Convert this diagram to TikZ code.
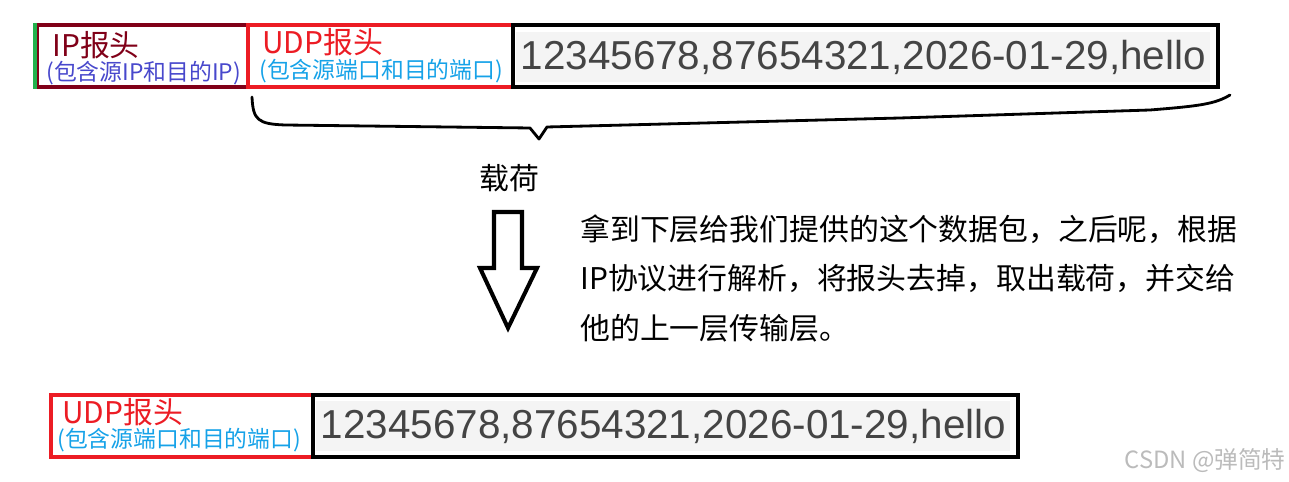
\documentclass[tikz,border=0pt]{standalone}
\usepackage{fontspec}
\setmainfont{Noto Sans CJK SC}
\newfontfamily\datafont{Liberation Sans}
\usetikzlibrary{positioning}

\definecolor{ipred}{HTML}{800018}
\definecolor{udpred}{HTML}{EC1C24}
\definecolor{ipblue}{HTML}{4848CC}
\definecolor{udpblue}{HTML}{16A2E8}
\definecolor{edgegreen}{HTML}{22B14C}
\definecolor{datagray}{HTML}{F4F4F4}
\definecolor{datatext}{HTML}{444444}
\definecolor{markgray}{HTML}{BBBBBB}

\tikzset{
  hdrbox/.style={draw=#1, line width=2.3pt, minimum height=1.24cm, inner sep=0pt, outer sep=0pt},
  databox/.style={draw=black, line width=2.3pt, minimum width=14.1cm, minimum height=1.24cm, inner sep=0pt, outer sep=0pt},
  datatxt/.style={fill=datagray, text=datatext, font=\datafont\fontsize{23}{23}\selectfont, minimum width=13.88cm, minimum height=1.0cm, inner sep=0pt},
  hdrtitle/.style={anchor=west, inner sep=0pt, text=#1, font=\fontsize{17}{17}\selectfont},
  hdrnote/.style={anchor=west, inner sep=0pt, text=#1, font=\fontsize{13}{13}\selectfont},
}

\begin{document}
\begin{tikzpicture}[x=0.02cm,y=-0.02cm]
\useasboundingbox (0,0) rectangle (1289,482);

% upper packet: IP header + UDP header + data
\node[hdrbox=ipred, minimum width=4.22cm] (iphdr) at (142.5,56) {};
\node[hdrbox=udpred, minimum width=5.3cm, right=0pt of iphdr] (udphdr) {};
\node[databox, right=0pt of udphdr] (datahdr) {};
\draw[edgegreen, line width=2pt] ([shift={(-2,-2)}]iphdr.north west) -- ([shift={(-2,2)}]iphdr.south west);

\node[hdrtitle=ipred] (iptitle) at ([shift={(15,-11)}]iphdr.west) {IP报头};
\node[hdrnote=ipblue] (ipnote) at ([shift={(9,17)}]iphdr.west) {(包含源IP和目的IP)};
\node[hdrtitle=udpred] (udptitle) at ([shift={(14,-14)}]udphdr.west) {UDP报头};
\node[hdrnote=udpblue] (udpnote) at ([shift={(11,15)}]udphdr.west) {(包含源端口和目的端口)};
\node[datatxt] (data) at ([shift={(-2,1)}]datahdr.center) {12345678,87654321,2026-01-29,hello};

% brace under UDP header and data
\draw[line width=1.6pt, line cap=round, line join=round]
  (252,97) .. controls (253,120) and (258,124) .. (285,125) -- (530,128)
  -- (539,139) -- (547,127) -- (900,118) -- (1150,110)
  .. controls (1200,106) and (1215,104) .. (1230,95);
\node[font=\fontsize{17}{17}\selectfont] (payload) at (509,178) {载荷};

% hollow arrow
\draw[line width=2.3pt, line join=miter]
  (494,212) -- (522,212) -- (522,268) -- (537,268) -- (508,328)
  -- (480,268) -- (494,268) -- cycle;

\node[anchor=north west, inner sep=0pt, align=left, font=\fontsize{17}{28.4}\selectfont] (explain) at (580,214)
  {拿到下层给我们提供的这个数据包，之后呢，根据\\IP协议进行解析，将报头去掉，取出载荷，并交给\\他的上一层传输层。};

% lower packet: UDP header + data
\node[hdrbox=udpred, minimum width=5.24cm] (udplow) at (182,426) {};
\node[databox, right=0pt of udplow] (datalow) {};
\node[hdrtitle=udpred] (udplowtitle) at ([shift={(11,-14)}]udplow.west) {UDP报头};
\node[hdrnote=udpblue] (udplownote) at ([shift={(6,14)}]udplow.west) {(包含源端口和目的端口)};
\node[datatxt] (datalowtxt) at ([shift={(-2,0)}]datalow.center) {12345678,87654321,2026-01-29,hello};

\node[anchor=east, inner sep=0pt, text=markgray, font=\fontsize{13.5}{13.5}\selectfont] (mark) at (1286,461) {CSDN @弹简特};

\end{tikzpicture}
\end{document}
